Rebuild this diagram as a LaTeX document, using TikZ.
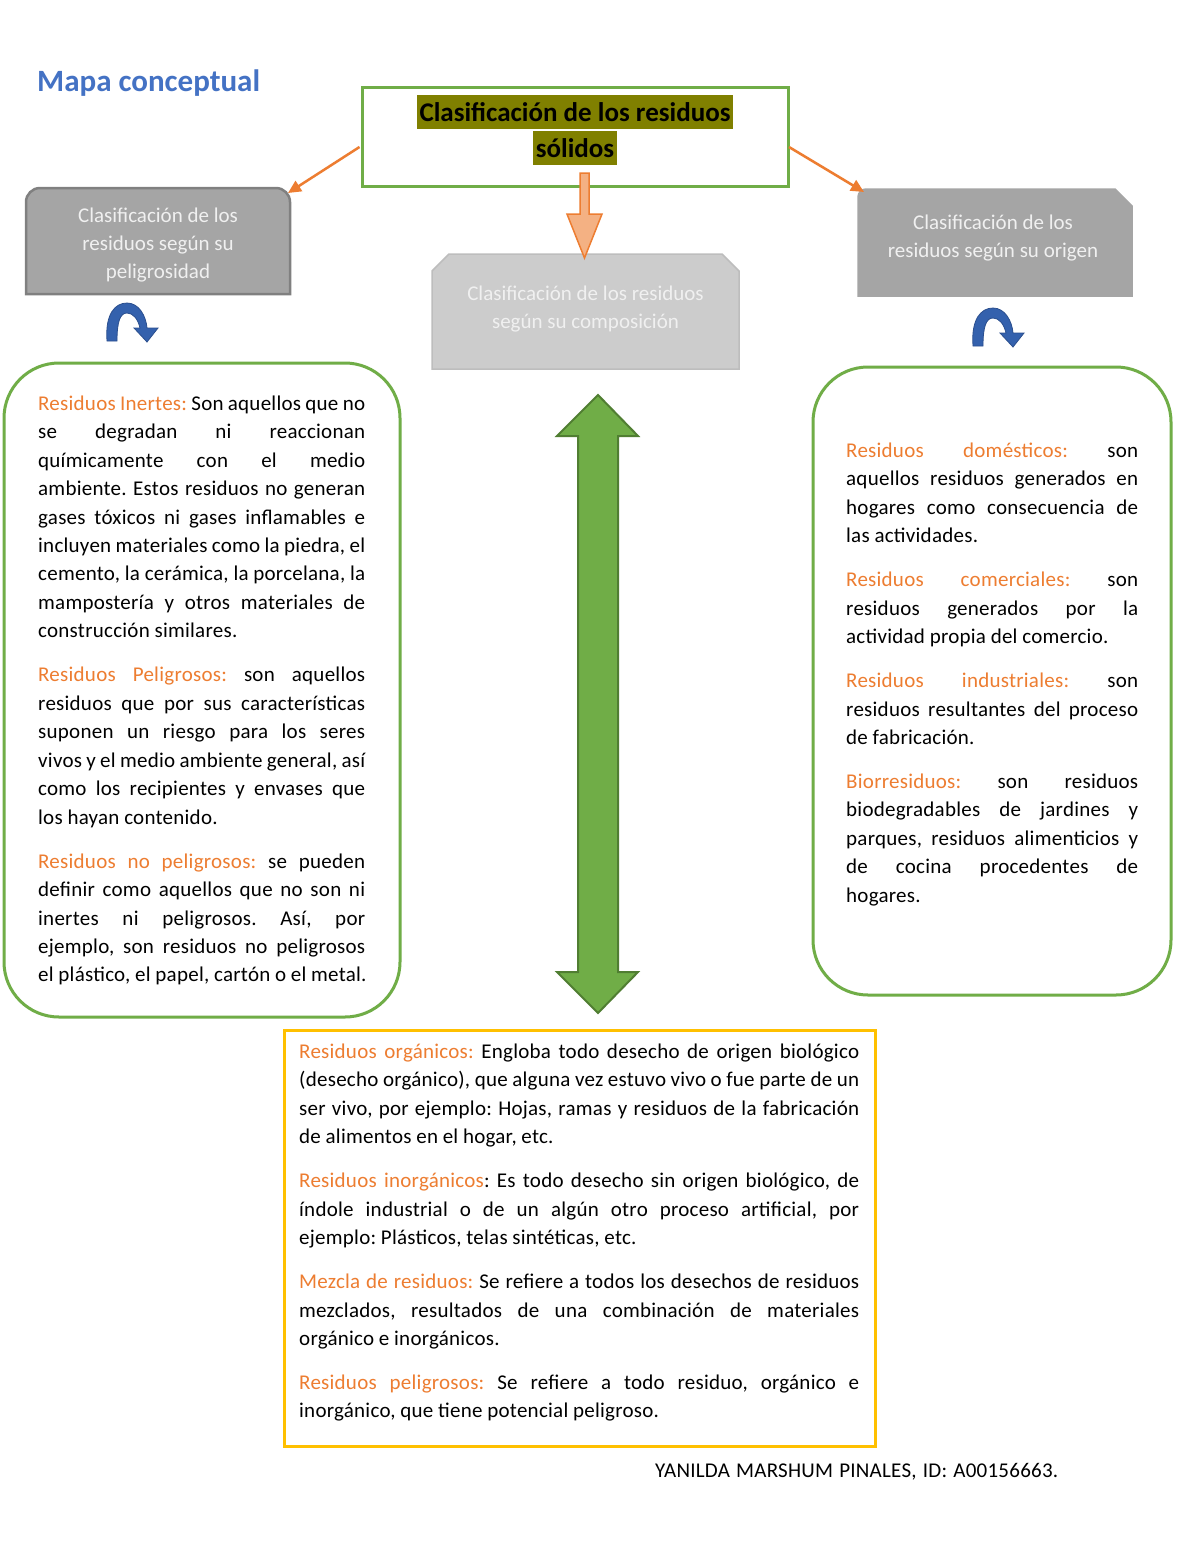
\documentclass[tikz,border=0pt]{standalone}
\usepackage{fontspec}
\setmainfont{Carlito}
\newfontfamily\bodyfam{Carlito}[LetterSpace=1.2]
\usetikzlibrary{arrows.meta}
\definecolor{orangeC}{HTML}{ED7D31}
\definecolor{greenC}{HTML}{70AD47}
\definecolor{greenD}{HTML}{507E32}
\definecolor{grayA}{HTML}{A5A5A5}
\definecolor{grayB}{HTML}{808080}
\definecolor{grayL}{HTML}{CCCCCC}
\definecolor{grayLB}{HTML}{BDBDBD}
\definecolor{boxwhite}{HTML}{F0F0F0}
\definecolor{yellowC}{HTML}{FFC000}
\definecolor{oliveC}{HTML}{808000}
\definecolor{titleblue}{HTML}{4472C4}
\definecolor{salmonC}{HTML}{F4B183}
\definecolor{blueA}{HTML}{3461AD}
\definecolor{blueB}{HTML}{2B4F8E}
\newdimen\jwidth
\newcommand\strutx{\vrule height 20pt depth 8.45pt width 0pt\relax}
\newcommand\jline[1]{\hbox to\jwidth{\frenchspacing\spaceskip=4.75pt plus 20pt minus 3.2pt\relax\strutx#1}}
\newcommand\lline[1]{\hbox{\frenchspacing\spaceskip=4.75pt\relax\strutx#1}}
\newcommand\lab[1]{\textcolor{orangeC}{#1}}
\newcommand\pgap{\vskip15.6pt}
\newcommand\bodyfont{\bodyfam\fontsize{21}{28.45}\selectfont\frenchspacing}
\newcommand\boxfont{\fontsize{21}{28.45}\selectfont}
\tikzset{
  helper/.style={inner sep=0pt, outer sep=0pt},
  hl/.style={fill=oliveC, text=black, font=\fontsize{27}{35}\selectfont\bfseries, inner xsep=3pt, inner ysep=0pt, text height=25.7pt, text depth=8pt, anchor=base},
  boxtext/.style={align=center, font=\boxfont, text=boxwhite, inner sep=0pt},
  bodytext/.style={anchor=north west, inner sep=0pt, font=\bodyfont, text=black},
  greenbox/.style={draw=greenC, line width=3pt, rounded corners=55pt, inner sep=0pt},
  orangeline/.style={draw=orangeC, line width=2.5pt, -{Triangle[length=13pt,width=12pt]}},
  bluearrow/.style={fill=blueA, draw=blueB, line width=0.8pt},
}
\begin{document}
\begin{tikzpicture}[x=1pt, y=-1pt]
\useasboundingbox (0,0) rectangle (1200,1553);
\fill[white] (0,0) rectangle (1200,1553);

% title
\node[anchor=base west, inner sep=0pt, font=\fontsize{31}{37}\selectfont\bfseries, text=titleblue] (maptitle) at (37,91) {Mapa conceptual};

% top box
\node[helper, draw=greenC, line width=3pt, minimum width=426pt, minimum height=99pt] (top) at (575,136.5) {};
\node[hl] (t1) at (575,121) {Clasificación de los residuos};
\node[hl] (t2) at (575,157) {sólidos};

% gray boxes (helpers)
\node[helper, minimum width=264pt, minimum height=106pt] (pel) at (158,241) {};
\node[helper, minimum width=307pt, minimum height=115pt] (comp) at (585.5,311.5) {};
\node[helper, minimum width=274pt, minimum height=107pt] (orig) at (995,242.5) {};

\draw[fill=grayA, draw=grayB, line width=2.5pt] (26,294) -- (26,202) .. controls (26,194.3) and (32.3,188) .. (40,188) -- (276,188) .. controls (283.7,188) and (290,194.3) .. (290,202) -- (290,294) -- cycle;
\draw[fill=grayL, draw=grayLB, line width=1.5pt] (432,369) -- (432,271) -- (449,254) -- (722,254) -- (739,271) -- (739,369) -- cycle;
\draw[fill=grayA, draw=grayA, line width=1.5pt] (858,296) -- (858,197) .. controls (858,192.6) and (861.6,189) .. (866,189) -- (1115,189) -- (1132,206) -- (1132,296) -- cycle;

\node[boxtext] (pelt) at (158,244.7) {\strutx Clasificación de los\\\strutx residuos según su\\\strutx peligrosidad};
\node[boxtext] (compt) at (585.5,308.5) {\strutx Clasificación de los residuos\\\strutx según su composición};
\node[boxtext] (origt) at (993,237.7) {\strutx Clasificación de los\\\strutx residuos según su origen};

% orange connectors
\draw[orangeline] ([xshift=-2.5pt,yshift=-10.5pt]top.west) -- ([xshift=-2pt,yshift=-5pt]pel.north east);
\draw[orangeline] ([xshift=1pt,yshift=-10.5pt]top.east) -- ([xshift=6pt,yshift=-3pt]orig.north west);

% orange block arrow
\draw[fill=salmonC, draw=orangeC, line width=1.5pt, line join=miter] (580,173) -- (589,173) -- (589,214) -- (602,214) -- (584.5,258) -- (567,214) -- (580,214) -- cycle;

% blue curved arrows
\path[bluearrow] (107,341) .. controls (105,314) and (115,303) .. (127,303) .. controls (139,303) and (146,316) .. (147,328) -- (158,328) -- (147,342) -- (134,328) -- (140,328) .. controls (138,319) and (133,313) .. (127,313) .. controls (120,313) and (117,322) .. (117,341) -- cycle;
\begin{scope}[shift={(866,5)}]
\path[bluearrow] (107,341) .. controls (105,314) and (115,303) .. (127,303) .. controls (139,303) and (146,316) .. (147,328) -- (158,328) -- (147,342) -- (134,328) -- (140,328) .. controls (138,319) and (133,313) .. (127,313) .. controls (120,313) and (117,322) .. (117,341) -- cycle;
\end{scope}

% green double arrow
\draw[fill=greenC, draw=greenD, line width=2pt, line join=miter] (598,395) -- (638,436) -- (618,436) -- (618,972) -- (638,972) -- (598,1013) -- (557,972) -- (578,972) -- (578,436) -- (557,436) -- cycle;

% text boxes
\node[greenbox, minimum width=396pt, minimum height=654pt] (leftbox) at (202,690) {};
\node[greenbox, minimum width=358pt, minimum height=628pt] (rightbox) at (992,681) {};
\node[helper, draw=yellowC, line width=3pt, minimum width=591pt, minimum height=416pt] (botbox) at (579.5,1238) {};

\node[bodytext, text width=327pt] (lefttext) at (38,390) {\jwidth=327pt\relax
\jline{\lab{Residuos Inertes:} Son aquellos que no}
\jline{se degradan ni reaccionan}
\jline{químicamente con el medio}
\jline{ambiente. Estos residuos no generan}
\jline{gases tóxicos ni gases inflamables e}
\jline{incluyen materiales como la piedra, el}
\jline{cemento, la cerámica, la porcelana, la}
\jline{mampostería y otros materiales de}
\lline{construcción similares.}
\pgap
\jline{\lab{Residuos Peligrosos:} son aquellos}
\jline{residuos que por sus características}
\jline{suponen un riesgo para los seres}
\jline{vivos y el medio ambiente general, así}
\jline{como los recipientes y envases que}
\lline{los hayan contenido.}
\pgap
\jline{\lab{Residuos no peligrosos:} se pueden}
\jline{definir como aquellos que no son ni}
\jline{inertes ni peligrosos. Así, por}
\jline{ejemplo, son residuos no peligrosos}
\lline{el plástico, el papel, cartón o el metal.}%
};

\node[bodytext, text width=292pt] (righttext) at (846,437) {\jwidth=292pt\relax
\jline{\lab{Residuos domésticos:} son}
\jline{aquellos residuos generados en}
\jline{hogares como consecuencia de}
\lline{las actividades.}
\pgap
\jline{\lab{Residuos comerciales:} son}
\jline{residuos generados por la}
\lline{actividad propia del comercio.}
\pgap
\jline{\lab{Residuos industriales:} son}
\jline{residuos resultantes del proceso}
\lline{de fabricación.}
\pgap
\jline{\lab{Biorresiduos:} son residuos}
\jline{biodegradables de jardines y}
\jline{parques, residuos alimenticios y}
\jline{de cocina procedentes de}
\lline{hogares.}%
};

\node[bodytext, text width=560pt] (bottext) at (299,1038) {\jwidth=560pt\relax
\jline{\lab{Residuos orgánicos:} Engloba todo desecho de origen biológico}
\jline{(desecho orgánico), que alguna vez estuvo vivo o fue parte de un}
\jline{ser vivo, por ejemplo: Hojas, ramas y residuos de la fabricación}
\lline{de alimentos en el hogar, etc.}
\pgap
\jline{\lab{Residuos inorgánicos}: Es todo desecho sin origen biológico, de}
\jline{índole industrial o de un algún otro proceso artificial, por}
\lline{ejemplo: Plásticos, telas sintéticas, etc.}
\pgap
\jline{\lab{Mezcla de residuos:} Se refiere a todos los desechos de residuos}
\jline{mezclados, resultados de una combinación de materiales}
\lline{orgánico e inorgánicos.}
\pgap
\jline{\lab{Residuos peligrosos:} Se refiere a todo residuo, orgánico e}
\lline{inorgánico, que tiene potencial peligroso.}%
};

\node[anchor=base west, inner sep=0pt, font=\bodyfont] (foot) at (655,1477) {\hbox to 403pt{\spaceskip=4.75pt plus 20pt\relax YANILDA MARSHUM PINALES, ID: A00156663.}};
\end{tikzpicture}
\end{document}
